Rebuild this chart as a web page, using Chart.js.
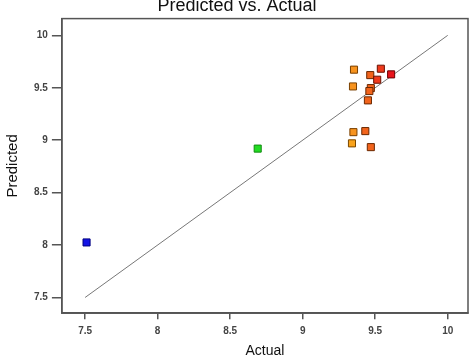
<!DOCTYPE html>
<html><head><meta charset="utf-8">
<script src="https://cdn.jsdelivr.net/npm/chart.js@4"></script>
<style>html,body{margin:0;padding:0;background:#fff;}#wrap{width:474px;height:355px;}</style>
</head><body><div id="wrap"><canvas id="c" width="474" height="355"></canvas></div>
<script>
const actual    = [7.51, 8.69, 9.354, 9.539, 9.466, 9.61, 9.514, 9.347, 9.47, 9.46, 9.45, 9.35, 9.432, 9.34, 9.47];
const predicted = [8.025, 8.92, 9.673, 9.682, 9.621, 9.628, 9.577, 9.513, 9.497, 9.469, 9.38, 9.077, 9.087, 8.97, 8.934];
const fillColors = ['#1414e6','#22dd22','#f7931e','#ee3a1c','#f2641c','#e8141c','#ee3a1c','#f7931e','#f2641c','#f2641c','#f2641c','#f7931e','#f2641c','#f9a31c','#f2641c'];
const edgeColors = ['#000080','#138a13','#7a4000','#6a1000','#6a2800','#6a0000','#6a1000','#7a4000','#6a2800','#6a2800','#6a2800','#7a4000','#6a2800','#7a4800','#6a2800'];
const refLine = [7.5, 10];
const tickValues = [7.5, 8, 8.5, 9, 9.5, 10];

const frame = {
  id: 'frame',
  afterDraw(chart) {
    const {ctx, chartArea: a} = chart;
    ctx.save();
    ctx.strokeStyle = '#555';
    ctx.lineWidth = 1.5;
    ctx.strokeRect(a.left, a.top, a.right - a.left, a.bottom - a.top);
    ctx.restore();
  }
};
const fixTicks = s => { s.ticks = tickValues.map(v => ({value: v})); };

new Chart(document.getElementById('c'), {
  type: 'scatter',
  data: {
    datasets: [
      {
        type: 'line',
        data: refLine.map(v => ({x: v, y: v})),
        borderColor: '#777',
        borderWidth: 1,
        pointRadius: 0,
        fill: false,
        order: 2
      },
      {
        data: actual.map((v, i) => ({x: v, y: predicted[i]})),
        pointStyle: 'rect',
        pointRadius: 5,
        pointHoverRadius: 5,
        backgroundColor: fillColors,
        borderColor: edgeColors,
        borderWidth: 1,
        order: 1
      }
    ]
  },
  options: {
    responsive: false,
    animation: false,
    layout: {padding: {left: 4, right: 4, top: 0, bottom: -5}},
    plugins: {
      legend: {display: false},
      tooltip: {enabled: false},
      title: {
        display: true,
        text: 'Predicted vs. Actual',
        color: '#111',
        font: {family: 'Liberation Sans, Arial', size: 18, weight: 'normal'},
        padding: {top: -5, bottom: 2}
      }
    },
    scales: {
      x: {
        type: 'linear', min: 7.34, max: 10.14,
        afterBuildTicks: fixTicks,
        grid: {drawOnChartArea: false, drawTicks: true, tickLength: 6, color: '#555', lineWidth: 1.5},
        border: {display: true, color: '#555', width: 1.5},
        ticks: {color: '#444', font: {family: 'Liberation Sans, Arial', size: 10, weight: 'bold'}, padding: 6, maxRotation: 0,
                callback: v => String(v)},
        title: {display: true, text: 'Actual', color: '#111', font: {family: 'Liberation Sans, Arial', size: 14}, padding: {top: 0, bottom: 0}}
      },
      y: {
        type: 'linear', min: 7.35, max: 10.16,
        afterBuildTicks: fixTicks,
        grid: {drawOnChartArea: false, drawTicks: true, tickLength: 10, color: '#555', lineWidth: 1.5},
        border: {display: true, color: '#555', width: 1.5},
        ticks: {color: '#444', font: {family: 'Liberation Sans, Arial', size: 10, weight: 'bold'}, padding: 4,
                callback: v => String(v)},
        title: {display: true, text: 'Predicted', color: '#111', font: {family: 'Liberation Sans Narrow, Liberation Sans, Arial', size: 15}, padding: {top: 0, bottom: 8}}
      }
    }
  },
  plugins: [frame]
});
</script></body></html>
